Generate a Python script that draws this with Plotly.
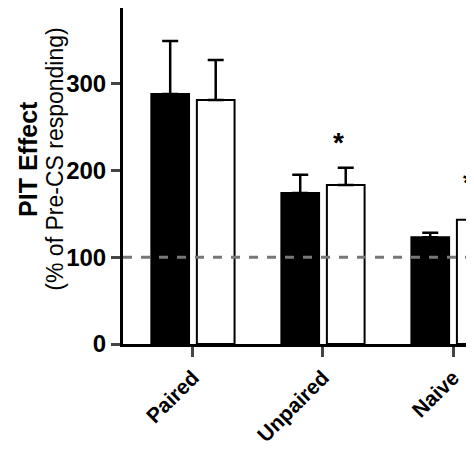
import plotly.graph_objects as go

groups = ['Paired', 'Unpaired', 'Naive']
black_vals = [288, 174, 123]
black_err = [61, 21, 5]
white_vals = [281, 183, 143]
white_err = [46, 20, 8]
star_groups = [1, 2]
star_vals = [232, 186]

x = [0, 1, 2]
fig = go.Figure()
fig.add_trace(go.Bar(x=[i - 0.175 for i in x], y=black_vals, width=0.29, name='Reward-Lever',
                     marker=dict(color='black', line=dict(color='black', width=2)),
                     error_y=dict(type='data', array=black_err, symmetric=False, color='black', thickness=2.5, width=8)))
fig.add_trace(go.Bar(x=[i + 0.175 for i in x], y=white_vals, width=0.29, name='Reward-Lever ',
                     marker=dict(color='white', line=dict(color='black', width=2)),
                     error_y=dict(type='data', array=white_err, symmetric=False, color='black', thickness=2.5, width=8)))
fig.add_hline(y=100, line=dict(color='#777', width=3, dash='dash'))

for g, v in zip(star_groups, star_vals):
    fig.add_annotation(x=g + 0.12, y=v, text='<b>*</b>', showarrow=False, xanchor='center',
                       font=dict(size=28, color='black'))

fig.add_annotation(xref='paper', yref='paper', x=-0.31, y=0.55, text='<b>PIT Effect</b>',
                   textangle=-90, showarrow=False, font=dict(size=25, color='black'))
fig.add_annotation(xref='paper', yref='paper', x=-0.23, y=0.55, text='(% of Pre-CS responding)',
                   textangle=-90, showarrow=False, font=dict(size=23, color='black'))

fig.update_layout(
    width=474, height=474,
    margin=dict(l=115, r=0, t=0, b=138, autoexpand=False),
    plot_bgcolor='white', paper_bgcolor='white',
    font=dict(family='Liberation Sans, Arial', color='black'),
    showlegend=True,
    legend=dict(orientation='h', x=0.05, y=-0.375, xanchor='left', yanchor='top',
                font=dict(size=24)),
    xaxis=dict(range=[-0.538, 2.223], tickvals=x, ticktext=['<b>%s</b>' % g for g in groups],
               tickangle=-45, tickfont=dict(size=21), ticks='outside', ticklen=10, tickwidth=3,
               showline=True, linecolor='black', linewidth=3, showgrid=False, zeroline=False,
               automargin=False),
    yaxis=dict(range=[0, 387], tickvals=[0, 100, 200, 300], ticktext=['<b>0</b>', '<b>100</b>', '<b>200</b>', '<b>300</b>'],
               tickfont=dict(size=24), ticks='outside', ticklen=9, tickwidth=3,
               showline=True, linecolor='black', linewidth=3, showgrid=False, zeroline=False,
               automargin=False),
)
fig.write_html("out.html")
